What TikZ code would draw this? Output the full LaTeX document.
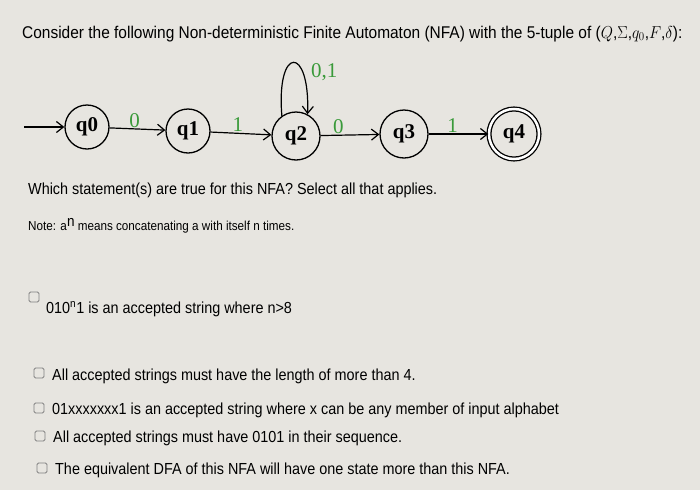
\documentclass[tikz,border=0pt]{standalone}
\usepackage{fontspec}
\setmainfont{Liberation Sans}
\newfontfamily\stfont{Liberation Serif}
\usetikzlibrary{arrows.meta}
\definecolor{bg}{HTML}{E7E5E0}
\definecolor{lblg}{HTML}{3A9A3A}
\tikzset{
 st/.style={circle,draw,line width=1.3pt,inner sep=0pt,font=\stfont\fontsize{21}{21}\selectfont\bfseries},
 acc/.style={st,double,double distance=2.5pt},
 tr/.style={-{Straight Barb[length=7pt,width=11pt]},line width=1.2pt},
 lb/.style={text=lblg,font=\stfont\fontsize{21}{21}\selectfont,inner sep=1pt},
 txt/.style={anchor=west,inner sep=0pt},
 box/.style={draw=gray,rounded corners=1.5pt,minimum size=10pt,inner sep=0pt,line width=0.8pt}
}
\begin{document}
\begin{tikzpicture}[x=1pt,y=-1pt]
\fill[bg] (0,0) rectangle (700,490);
\useasboundingbox (0,0) rectangle (700,490);
\node[txt] (title) at (22,34) {\fontsize{17}{17}\selectfont\scalebox{0.91}[1]{Consider the following Non-deterministic Finite Automaton (NFA) with the 5-tuple of ($Q$,$\Sigma$,$q_0$,$F$,$\delta$):}};
\node[st,minimum size=44pt] (q0) at (87,127) {q0};
\node[st,minimum size=44pt] (q1) at (188,131) {q1};
\node[st,minimum size=48pt] (q2) at (296,136) {q2};
\node[st,minimum size=48pt] (q3) at (404,134) {q3};
\node[acc,minimum size=50pt] (q4) at (514,134) {q4};
\coordinate (start) at (24,127);
\draw[tr] (start) -- (q0);
\draw[tr] (q0) -- node[lb,above,pos=0.45] {0} (q1);
\draw[tr] (q1) -- node[lb,above,pos=0.45] {1} (q2);
\draw[tr] (q2) -- node[lb,above,pos=0.3] {0} (q3);
\draw[tr] (q3) -- node[lb,above,pos=0.4] {1} (q4);
\draw[tr] (q2.125) .. controls (276,45) and (310,45) .. (q2.62);
\node[lb,anchor=west] (l01) at (310,72) {0,1};
\node[txt] (ask) at (28,190) {\fontsize{16}{16}\selectfont\scalebox{0.9}[1]{Which statement(s) are true for this NFA? Select all that applies.}};
\node[txt] (note) at (28,226) {\fontsize{13}{13}\selectfont\scalebox{0.9}[1]{Note: a\raisebox{4pt}{\fontsize{15}{15}\selectfont n} means concatenating a with itself n times.}};
\node[box] (b1) at (34,297) {};
\node[txt] (o1) at (46,309) {\fontsize{16}{16}\selectfont\scalebox{0.9}[1]{010\textsuperscript{n}1 is an accepted string where n>8}};
\node[box] (b2) at (39,373) {};
\node[txt] (o2) at (52,376) {\fontsize{16}{16}\selectfont\scalebox{0.9}[1]{All accepted strings must have the length of more than 4.}};
\node[box] (b3) at (39,408) {};
\node[txt] (o3) at (52,410) {\fontsize{16}{16}\selectfont\scalebox{0.9}[1]{01xxxxxxx1 is an accepted string where x can be any member of input alphabet}};
\node[box] (b4) at (40,436) {};
\node[txt] (o4) at (53,438) {\fontsize{16}{16}\selectfont\scalebox{0.9}[1]{All accepted strings must have 0101 in their sequence.}};
\node[box] (b5) at (42,468) {};
\node[txt] (o5) at (55,470) {\fontsize{16}{16}\selectfont\scalebox{0.9}[1]{The equivalent DFA of this NFA will have one state more than this NFA.}};
\end{tikzpicture}
\end{document}
